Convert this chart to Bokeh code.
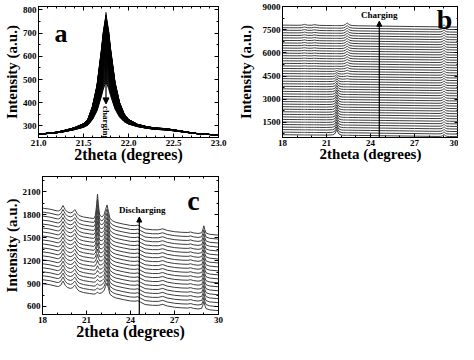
import numpy as np
from bokeh.plotting import figure
from bokeh.layouts import column, row
from bokeh.models import Arrow, NormalHead, FixedTicker, LinearAxis, Label, NumeralTickFormatter
from bokeh.embed import file_html
from bokeh.resources import INLINE

FONT = "Liberation Serif"

# ---------------- panel a : zoom on the 21.75 deg reflection ----------------
a_x = [21.0, 21.1, 21.2, 21.3, 21.4, 21.5, 21.55, 21.6, 21.65, 21.7,
       21.72, 21.75, 21.78, 21.8, 21.85, 21.9, 21.95, 22.0, 22.1, 22.2,
       22.3, 22.4, 22.5, 22.6, 22.7, 22.8, 22.9, 23.0]
a_base = [264, 266, 268, 272, 278, 283, 286, 288, 290, 291,
          292, 293, 293, 294, 294, 295, 295, 294, 290, 285,
          281, 279, 276, 272, 268, 265, 263, 261]
a_shape = [0.0, 0.005, 0.01, 0.02, 0.03, 0.055, 0.09, 0.2, 0.38, 0.7,
           0.85, 1.0, 0.85, 0.7, 0.4, 0.22, 0.12, 0.07, 0.035, 0.025,
           0.02, 0.02, 0.015, 0.01, 0.005, 0.0, 0.0, 0.0]
a_peak_tops = [780, 775, 770, 765, 760, 755, 750, 745, 740, 735,
               730, 724, 718, 712, 706, 700, 693, 686, 679, 672,
               665, 657, 649, 641, 633, 625, 616, 607, 598, 589,
               580, 570, 560, 550, 540, 530, 520, 510, 500, 490]
a_xticks = [21.0, 21.5, 22.0, 22.5, 23.0]
a_yticks = [300, 400, 500, 600, 700, 800]

# ---------------- panel b : charging, stacked patterns ----------------
b_x = [18.0, 18.5, 19.0, 19.3, 19.42, 19.5, 19.58, 19.7, 20.0, 20.1,
       20.2, 20.3, 20.5, 21.0, 21.4, 21.55, 21.63, 21.7, 21.77, 21.85,
       22.0, 22.15, 22.28, 22.35, 22.42, 22.5, 22.6, 22.8, 23.2, 24.0,
       25.0, 26.0, 27.0, 28.0, 28.6, 28.8, 28.9, 28.97, 29.05, 29.12,
       29.2, 29.4, 30.0]
b_base = [700, 695, 690, 688, 687, 686, 686, 685, 683, 682,
          681, 680, 678, 674, 671, 670, 669, 669, 668, 668,
          666, 665, 664, 663, 663, 662, 661, 659, 654, 645,
          632, 620, 608, 596, 590, 588, 587, 586, 586, 585,
          584, 582, 575]
b_shape_195 = {19.3: 0.2, 19.42: 0.7, 19.5: 1.0, 19.58: 0.7, 19.7: 0.2}
b_shape_202 = {20.0: 0.15, 20.1: 0.6, 20.2: 0.8, 20.3: 0.5, 20.5: 0.1}
b_shape_217 = {21.4: 0.05, 21.55: 0.2, 21.63: 0.55, 21.7: 1.0, 21.77: 0.55, 21.85: 0.2, 22.0: 0.05}
b_shape_224 = {22.15: 0.1, 22.28: 0.4, 22.35: 0.8, 22.42: 1.0, 22.5: 0.6, 22.6: 0.25, 22.8: 0.06}
b_shape_290 = {28.8: 0.08, 28.9: 0.4, 28.97: 0.95, 29.05: 0.95, 29.12: 0.4, 29.2: 0.1}
b_amp_217 = [380, 370, 360, 352, 345, 340, 335, 330, 325, 320,
             315, 310, 305, 300, 295, 290, 280, 270, 255, 240,
             220, 195, 165, 130, 95, 60, 30, 10, 0, 0,
             0, 0, 0, 0, 0, 0, 0, 0, 0, 0,
             0, 0, 0, 0]
b_amp_224 = [0, 0, 0, 0, 0, 0, 0, 0, 0, 0,
             0, 0, 0, 0, 0, 0, 0, 0, 0, 0,
             10, 20, 35, 50, 65, 80, 95, 105, 115, 125,
             130, 135, 140, 145, 150, 152, 155, 158, 160, 162,
             165, 168, 170, 172]
b_amp_bumps = [0, 0, 0, 0, 0, 0, 0, 0, 0, 0,
               0, 0, 0, 0, 0, 0, 0, 0, 0, 0,
               0, 0, 0, 0, 0, 10, 13, 16, 19, 22,
               25, 28, 31, 34, 37, 40, 43, 46, 49, 52,
               54, 56, 58, 60]
b_amp_290 = 110
b_step = 165
b_xticks = [18, 21, 24, 27, 30]
b_yticks = [1500, 3000, 4500, 6000, 7500, 9000]

# ---------------- panel c : discharging, stacked patterns ----------------
c_x = [18.0, 18.5, 19.0, 19.1, 19.25, 19.33, 19.4, 19.47, 19.55, 19.7,
       19.9, 20.05, 20.13, 20.2, 20.27, 20.35, 20.5, 20.8, 21.2, 21.5,
       21.6, 21.68, 21.75, 21.82, 21.9, 22.05, 22.2, 22.3, 22.4, 22.5,
       22.6, 22.8, 23.0, 23.5, 24.0, 24.3, 24.5, 24.7, 25.0, 25.5,
       25.9, 26.2, 26.5, 27.0, 27.5, 27.9, 28.1, 28.3, 28.6, 28.85,
       28.93, 29.0, 29.07, 29.15, 29.4, 30.0]
c_base = [898, 885, 862, 858, 856, 855, 854, 852, 850, 840,
          832, 828, 826, 824, 820, 812, 795, 782, 770, 762,
          762, 762, 763, 765, 768, 775, 785, 790, 790, 775,
          745, 725, 712, 690, 672, 665, 660, 650, 625, 615,
          608, 606, 600, 590, 582, 576, 574, 571, 567, 564,
          563, 562, 561, 560, 556, 545]
c_shape_194 = {19.1: 0.05, 19.25: 0.3, 19.33: 0.7, 19.4: 1.0, 19.47: 0.7, 19.55: 0.35, 19.7: 0.1, 19.9: 0.03}
c_shape_202 = {19.9: 0.03, 20.05: 0.3, 20.13: 0.7, 20.2: 1.0, 20.27: 0.7, 20.35: 0.35, 20.5: 0.1}
c_shape_2175 = {21.6: 0.12, 21.68: 0.5, 21.75: 1.0, 21.82: 0.5, 21.9: 0.12}
c_shape_224 = {22.05: 0.05, 22.2: 0.2, 22.3: 0.6, 22.4: 1.0, 22.5: 0.5, 22.6: 0.12, 22.8: 0.03}
c_shape_245 = {24.3: 0.3, 24.5: 1.0, 24.7: 0.3}
c_shape_262 = {25.9: 0.3, 26.2: 1.0, 26.5: 0.3}
c_shape_281 = {27.9: 0.3, 28.1: 1.0, 28.3: 0.3}
c_shape_290 = {28.85: 0.1, 28.93: 0.5, 29.0: 1.0, 29.07: 0.5, 29.15: 0.12}
c_amp_2175 = [25, 28, 30, 35, 40, 48, 58, 75, 100, 120,
              140, 160, 180, 200, 220, 240, 260, 280, 300, 320]
c_amp_224 = [120, 122, 124, 126, 128, 130, 132, 134, 136, 138,
             140, 141, 142, 143, 144, 145, 146, 147, 148, 150]
c_amp_194 = 78
c_amp_202 = 55
c_amp_245 = 15
c_amp_262 = 22
c_amp_281 = 12
c_amp_290 = 105
c_step = 52
c_xticks = [18, 21, 24, 27, 30]
c_yticks = [600, 900, 1200, 1500, 1800, 2100]


def shape_on(grid, shape):
    return np.array([shape.get(x, 0.0) for x in grid])


def style(p, xticks, yticks, xminor, yminor, xlab_size, ylab_size, ylab_standoff=0, xfmt=None):
    p.xgrid.visible = False
    p.ygrid.visible = False
    p.outline_line_color = "black"
    p.outline_line_width = 1
    xt = FixedTicker(ticks=xticks, minor_ticks=xminor)
    yt = FixedTicker(ticks=yticks, minor_ticks=yminor)
    p.xaxis.ticker = xt
    p.yaxis.ticker = yt
    if xfmt:
        p.xaxis.formatter = NumeralTickFormatter(format=xfmt)
    for ax in list(p.xaxis) + list(p.yaxis):
        ax.major_tick_in = 4
        ax.major_tick_out = 0
        ax.minor_tick_in = 2
        ax.minor_tick_out = 0
        ax.axis_line_color = "black"
        ax.major_label_text_font = FONT
        ax.major_label_text_font_style = "bold"
        ax.major_label_text_font_size = "9px"
        ax.major_label_text_color = "black"
        ax.major_label_standoff = 2
        ax.axis_label_text_font = FONT
        ax.axis_label_text_font_style = "bold"
        ax.axis_label_text_color = "black"
    p.xaxis.axis_label = "2theta (degrees)"
    p.yaxis.axis_label = "Intensity (a.u.)"
    p.xaxis.axis_label_text_font_size = xlab_size
    p.yaxis.axis_label_text_font_size = ylab_size
    p.xaxis.axis_label_standoff = -3
    p.yaxis.axis_label_standoff = ylab_standoff
    for loc, t in (("above", xt), ("right", yt)):
        m = LinearAxis(ticker=t, major_label_text_font_size="0px", major_label_text_color=None,
                       major_label_standoff=0,
                       major_tick_in=4, major_tick_out=0, minor_tick_in=2, minor_tick_out=0,
                       axis_line_color="black")
        p.add_layout(m, loc)


def label(p, x, y, text, size, angle=0.0, align="center"):
    p.add_layout(Label(x=x, y=y, text=text, text_font=FONT, text_font_style="bold",
                       text_font_size=size, text_align=align, text_baseline="middle",
                       angle=angle, text_color="black"))


# ---------------- figure a ----------------
pa = figure(width=228, height=167, x_range=(21.0, 23.0), y_range=(250, 815),
            output_backend="svg", toolbar_location=None,
            min_border_left=31, min_border_right=10, min_border_top=3, min_border_bottom=28)
ab = np.array(a_base, dtype=float)
ash = np.array(a_shape)
a_xs, a_ys = [], []
for top in a_peak_tops:
    a_xs.append(a_x)
    a_ys.append(list(ab + (top - a_base[11]) * ash))
pa.multi_line(a_xs, a_ys, line_color="black", line_width=1)
style(pa, a_xticks, a_yticks, list(np.arange(21.0, 23.001, 0.1)), list(range(250, 816, 50)),
      "16px", "15px", xfmt="0.0")
pa.add_layout(Arrow(end=NormalHead(size=6, fill_color="black", line_color="black"),
                    x_start=21.75, y_start=790, x_end=21.75, y_end=395,
                    line_color="black", line_width=1.2))
label(pa, 21.75, 386, "charging", "9px", angle=-np.pi / 2, align="left")
label(pa, 21.25, 700, "a", "26px")

# ---------------- figure b ----------------
pb = figure(width=230, height=167, x_range=(18, 30), y_range=(520, 9000),
            output_backend="svg", toolbar_location=None,
            min_border_left=54, min_border_right=0, min_border_top=6, min_border_bottom=30)
bb = np.array(b_base, dtype=float)
s195, s202 = shape_on(b_x, b_shape_195), shape_on(b_x, b_shape_202)
s217, s224 = shape_on(b_x, b_shape_217), shape_on(b_x, b_shape_224)
s290 = shape_on(b_x, b_shape_290)
b_xs, b_ys = [], []
for i in range(len(b_amp_217)):
    y = (bb + i * b_step + b_amp_bumps[i] * (s195 + s202) + b_amp_217[i] * s217
         + b_amp_224[i] * s224 + b_amp_290 * s290)
    b_xs.append(b_x)
    b_ys.append(list(y))
pb.multi_line(b_xs, b_ys, line_color="#3c3c3c", line_width=1)
style(pb, b_xticks, b_yticks, list(range(18, 31)), list(range(750, 9001, 750)),
      "15px", "15px", ylab_standoff=6)
pb.add_layout(Arrow(end=NormalHead(size=5, fill_color="black", line_color="black"),
                    x_start=24.6, y_start=520, x_end=24.6, y_end=8050,
                    line_color="black", line_width=1.2))
label(pb, 24.6, 8450, "Charging", "9px")
label(pb, 29.05, 8150, "b", "28px")

# ---------------- figure c ----------------
pc = figure(width=228, height=177, x_range=(18, 30), y_range=(495, 2300),
            output_backend="svg", toolbar_location=None,
            min_border_left=31, min_border_right=10, min_border_top=9, min_border_bottom=30)
cb = np.array(c_base, dtype=float)
k194, k202 = shape_on(c_x, c_shape_194), shape_on(c_x, c_shape_202)
k2175, k224 = shape_on(c_x, c_shape_2175), shape_on(c_x, c_shape_224)
k245, k262 = shape_on(c_x, c_shape_245), shape_on(c_x, c_shape_262)
k281, k290 = shape_on(c_x, c_shape_281), shape_on(c_x, c_shape_290)
c_xs, c_ys = [], []
for i in range(len(c_amp_2175)):
    y = (cb + i * c_step + c_amp_194 * k194 + c_amp_202 * k202 + c_amp_2175[i] * k2175
         + c_amp_224[i] * k224 + c_amp_245 * k245 + c_amp_262 * k262
         + c_amp_281 * k281 + c_amp_290 * k290)
    c_xs.append(c_x)
    c_ys.append(list(y))
pc.multi_line(c_xs, c_ys, line_color="#3c3c3c", line_width=1)
style(pc, c_xticks, c_yticks, list(range(18, 31)), list(range(600, 2300, 150)),
      "16px", "15px")
pc.add_layout(Arrow(end=NormalHead(size=5, fill_color="black", line_color="black"),
                    x_start=24.6, y_start=495, x_end=24.6, y_end=1770,
                    line_color="black", line_width=1.2))
label(pc, 24.8, 1860, "Discharging", "9px")
label(pc, 28.3, 1985, "c", "28px")

layout = column(row(pa, pb), pc)
open("out.html", "w").write(file_html(layout, INLINE))
